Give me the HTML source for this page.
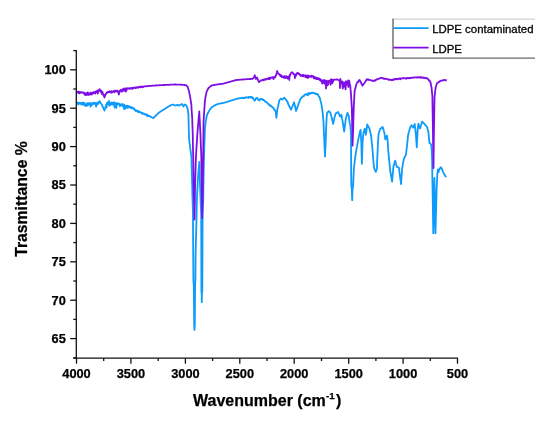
<!DOCTYPE html>
<html><head><meta charset="utf-8"><title>FTIR</title>
<style>
html,body{margin:0;padding:0;background:#fff;}
body{width:550px;height:421px;overflow:hidden;position:relative;font-family:"Liberation Sans",sans-serif;}
svg{position:absolute;left:0;top:0;}
text{font-family:"Liberation Sans",sans-serif;fill:#000;}
.tk{font-size:12.8px;font-weight:bold;stroke:#000;stroke-width:0.25px;}
.ax{font-size:16px;font-weight:bold;stroke:#000;stroke-width:0.25px;}
.lg{font-size:11.4px;stroke:#000;stroke-width:0.3px;}
</style></head><body>
<svg width="550" height="421" viewBox="0 0 550 421">
<rect width="550" height="421" fill="#fff"/>
<!-- curves -->
<path d="M76.5,102.9 L76.5,102.9 L76.8,102.9 L77.2,102.8 L77.5,103.7 L77.9,102.4 L78.2,104.0 L78.6,104.5 L78.9,102.9 L79.3,102.9 L79.6,103.0 L80.0,103.2 L80.3,103.0 L80.7,104.0 L81.0,103.7 L81.4,103.0 L81.7,104.6 L82.0,103.5 L82.1,102.9 L82.4,103.2 L82.8,102.5 L83.1,104.4 L83.5,102.9 L83.8,103.9 L84.2,105.4 L84.5,103.0 L84.9,103.9 L85.2,104.8 L85.6,104.8 L85.9,106.2 L86.3,105.3 L86.6,105.3 L87.0,103.5 L87.3,103.1 L87.7,105.6 L88.0,103.2 L88.4,103.5 L88.7,103.2 L89.1,104.2 L89.4,103.6 L89.8,103.2 L90.0,104.0 L90.1,103.0 L90.5,106.6 L90.8,104.7 L91.2,104.2 L91.5,105.4 L91.9,105.2 L92.2,103.2 L92.6,103.6 L92.9,104.0 L93.3,102.8 L93.6,103.3 L94.0,103.0 L94.3,103.9 L94.7,103.0 L95.0,102.8 L95.4,103.5 L95.7,103.3 L96.1,106.6 L96.4,103.2 L96.8,105.2 L97.0,103.8 L97.1,102.7 L97.5,103.3 L97.8,103.0 L98.2,103.9 L98.5,102.1 L98.9,102.6 L99.2,102.7 L99.6,101.1 L99.9,101.5 L100.0,102.0 L100.3,102.4 L100.6,103.0 L101.0,103.5 L101.3,104.0 L101.7,104.5 L102.0,105.0 L102.0,105.1 L102.4,105.9 L102.7,106.7 L103.1,107.5 L103.4,108.2 L103.8,109.0 L104.1,109.8 L104.5,110.6 L104.5,110.6 L104.8,109.3 L105.2,108.0 L105.5,106.7 L105.9,105.4 L106.0,105.0 L106.2,104.5 L106.6,107.7 L106.9,103.0 L107.3,102.5 L107.6,104.1 L108.0,104.1 L108.0,103.0 L108.3,102.4 L108.7,103.7 L109.0,101.0 L109.4,105.9 L109.7,102.9 L110.1,105.2 L110.4,105.0 L110.8,103.0 L111.1,103.9 L111.5,102.5 L111.8,102.8 L112.2,104.6 L112.5,103.0 L112.9,104.7 L113.2,103.5 L113.6,102.4 L113.9,102.1 L114.3,103.1 L114.6,107.6 L115.0,103.4 L115.0,104.0 L115.3,104.8 L115.7,103.0 L116.0,103.8 L116.4,107.9 L116.7,103.3 L117.1,103.4 L117.4,104.3 L117.8,103.1 L118.1,103.8 L118.5,104.3 L118.8,103.7 L119.2,103.9 L119.5,103.8 L119.9,106.3 L120.2,105.3 L120.6,104.5 L120.9,104.4 L121.3,104.6 L121.6,104.9 L122.0,105.4 L122.0,105.5 L122.3,105.0 L122.7,103.9 L123.0,105.6 L123.4,107.0 L123.7,105.6 L124.1,109.1 L124.4,105.0 L124.8,107.3 L125.1,106.8 L125.5,108.6 L125.8,106.0 L126.2,106.5 L126.5,105.8 L126.9,105.7 L127.2,106.8 L127.6,107.9 L127.9,105.8 L128.3,105.9 L128.6,106.2 L129.0,106.4 L129.3,107.4 L129.7,107.2 L130.0,107.5 L130.0,107.7 L130.4,106.7 L130.7,106.9 L131.1,107.2 L131.4,108.3 L131.8,108.2 L132.1,107.4 L132.5,107.6 L132.8,107.8 L133.2,108.6 L133.5,108.8 L133.9,108.3 L134.2,109.6 L134.6,109.5 L134.9,109.5 L135.0,110.0 L135.3,109.9 L135.6,111.0 L136.0,110.4 L136.3,110.7 L136.7,110.5 L137.0,111.2 L137.4,110.7 L137.7,111.0 L138.1,112.2 L138.4,111.2 L138.8,111.2 L139.1,112.0 L139.5,111.9 L139.8,111.9 L140.0,112.2 L140.2,112.2 L140.5,112.6 L140.9,112.3 L141.2,112.4 L141.6,112.9 L141.9,113.4 L142.3,113.8 L142.6,113.0 L143.0,113.4 L143.3,113.9 L143.7,113.8 L144.0,113.7 L144.4,113.8 L144.7,114.3 L145.0,114.3 L145.1,114.7 L145.4,114.1 L145.8,114.5 L146.1,114.4 L146.5,114.6 L146.8,115.8 L147.2,114.8 L147.5,115.0 L147.9,115.2 L148.2,116.2 L148.6,116.1 L148.9,116.0 L149.3,115.9 L149.6,116.2 L150.0,116.1 L150.0,116.5 L150.3,116.7 L150.7,116.8 L151.0,117.0 L151.4,117.1 L151.7,117.3 L152.1,117.5 L152.4,117.6 L152.8,117.8 L153.1,117.9 L153.3,118.0 L153.5,117.8 L153.8,117.5 L154.2,117.2 L154.5,116.8 L154.9,116.5 L155.2,116.2 L155.6,115.9 L155.9,115.5 L156.0,115.5 L156.3,115.2 L156.6,114.9 L157.0,114.5 L157.3,114.2 L157.7,113.9 L158.0,113.5 L158.4,113.2 L158.7,112.8 L159.1,112.5 L159.3,112.3 L159.4,112.2 L159.8,112.0 L160.1,111.8 L160.5,111.6 L160.8,111.3 L161.2,111.1 L161.5,110.9 L161.9,110.7 L162.2,110.5 L162.6,110.2 L162.9,110.0 L163.0,110.0 L163.3,109.8 L163.6,109.6 L164.0,109.4 L164.3,109.2 L164.7,109.0 L165.0,108.7 L165.4,108.5 L165.7,108.3 L166.1,108.1 L166.4,107.9 L166.4,107.9 L166.8,107.6 L167.1,107.4 L167.5,107.2 L167.8,107.0 L168.2,106.7 L168.5,106.5 L168.9,106.3 L169.0,106.2 L169.2,106.1 L169.6,105.9 L169.9,105.7 L170.3,105.5 L170.6,105.3 L171.0,105.1 L171.3,104.9 L171.3,104.9 L171.7,104.8 L172.0,104.8 L172.4,104.7 L172.7,104.6 L173.0,104.6 L173.1,104.6 L173.4,104.7 L173.8,104.9 L174.1,105.0 L174.5,105.1 L174.8,105.2 L175.2,105.3 L175.5,105.4 L175.7,105.5 L175.9,105.4 L176.2,105.3 L176.6,105.2 L176.9,105.0 L177.3,104.9 L177.5,104.8 L177.6,104.9 L178.0,105.1 L178.3,105.3 L178.7,105.4 L179.0,105.6 L179.0,105.6 L179.4,105.4 L179.7,105.2 L180.1,105.0 L180.4,104.8 L180.5,104.8 L180.8,104.6 L181.1,104.5 L181.5,104.3 L181.8,104.1 L182.0,104.0 L182.2,104.3 L182.5,104.9 L182.9,105.5 L183.2,106.1 L183.5,106.5 L183.6,106.3 L183.9,105.6 L184.3,104.9 L184.5,104.5 L184.6,104.6 L185.0,104.7 L185.3,104.8 L185.7,105.0 L186.0,105.1 L186.2,105.2 L186.4,105.6 L186.7,106.4 L187.1,107.1 L187.4,107.9 L187.5,108.0 L187.8,110.0 L188.1,112.3 L188.4,113.9 L188.5,117.4 L188.8,129.8 L189.1,138.6 L189.2,139.4 L189.5,142.4 L189.9,145.3 L190.2,148.2 L190.5,150.3 L190.6,150.9 L190.9,153.1 L191.3,155.4 L191.4,156.0 L191.6,165.4 L192.0,178.7 L192.3,190.0 L192.3,191.8 L192.7,204.3 L193.0,215.0 L193.0,223.7 L193.2,250.0 L193.4,281.0 L193.4,281.0 L193.7,284.5 L193.8,285.0 L194.1,315.0 L194.2,325.0 L194.4,329.2 L194.5,330.0 L194.8,325.0 L194.8,325.0 L195.1,285.0 L195.1,284.3 L195.4,281.0 L195.5,268.0 L195.6,255.0 L195.8,244.7 L196.2,230.3 L196.5,218.0 L196.5,215.8 L196.9,200.0 L196.9,200.0 L197.2,192.6 L197.6,185.2 L197.8,181.0 L197.9,179.1 L198.3,174.6 L198.6,170.1 L199.0,165.6 L199.3,161.8 L199.3,163.4 L199.7,174.6 L199.9,181.0 L200.0,185.1 L200.4,194.6 L200.6,200.0 L200.7,203.7 L201.1,212.5 L201.2,215.0 L201.4,291.0 L201.4,291.5 L201.7,294.0 L201.8,302.2 L201.8,302.2 L201.9,294.0 L202.1,292.1 L202.3,291.0 L202.5,240.3 L202.6,215.0 L202.8,208.8 L203.2,200.0 L203.2,200.0 L203.5,179.6 L203.8,165.0 L203.9,161.3 L204.2,150.0 L204.2,148.6 L204.6,139.0 L204.9,129.4 L205.0,128.0 L205.3,125.4 L205.6,122.3 L205.8,121.0 L206.0,120.0 L206.3,118.3 L206.7,116.5 L207.0,115.0 L207.0,114.9 L207.4,114.2 L207.7,113.5 L208.1,112.8 L208.4,112.1 L208.7,111.6 L208.8,111.4 L209.1,110.9 L209.5,110.3 L209.8,109.8 L210.2,109.3 L210.5,108.7 L210.9,108.2 L211.0,108.0 L211.2,107.8 L211.6,107.5 L211.9,107.3 L212.3,107.0 L212.6,106.7 L213.0,106.4 L213.3,106.2 L213.7,105.9 L213.8,105.8 L214.0,105.7 L214.4,105.5 L214.7,105.4 L215.1,105.2 L215.4,105.1 L215.8,104.9 L216.1,104.8 L216.5,104.6 L216.8,104.5 L217.2,104.3 L217.5,104.2 L217.9,104.0 L218.0,104.0 L218.2,103.9 L218.6,103.9 L218.9,103.8 L219.3,103.7 L219.6,103.7 L220.0,103.6 L220.3,103.5 L220.7,103.4 L221.0,103.4 L221.4,103.3 L221.7,103.2 L222.1,103.1 L222.4,103.1 L222.8,103.0 L223.1,102.9 L223.5,102.9 L223.8,102.8 L224.2,102.7 L224.5,102.6 L224.7,102.6 L224.9,102.5 L225.2,102.4 L225.6,102.3 L225.9,102.2 L226.3,102.1 L226.6,102.0 L227.0,101.9 L227.3,101.8 L227.7,101.7 L228.0,101.6 L228.4,101.4 L228.7,101.3 L229.1,101.2 L229.4,101.1 L229.8,101.0 L230.1,100.9 L230.5,100.8 L230.8,100.7 L231.2,100.6 L231.5,100.5 L231.9,100.3 L232.2,100.2 L232.6,100.1 L232.9,100.0 L233.3,99.9 L233.6,99.8 L234.0,99.7 L234.3,99.6 L234.7,99.5 L235.0,99.4 L235.4,99.3 L235.7,99.1 L236.1,99.0 L236.4,98.9 L236.8,98.8 L237.1,98.7 L237.5,98.6 L237.8,98.5 L237.8,98.5 L238.2,98.5 L238.5,98.4 L238.9,98.4 L239.2,98.3 L239.6,98.3 L239.9,98.3 L240.3,98.1 L240.6,98.1 L241.0,98.2 L241.3,98.0 L241.7,98.0 L242.0,97.8 L242.4,97.7 L242.7,97.9 L243.1,98.0 L243.4,97.9 L243.8,98.2 L244.1,97.6 L244.5,98.1 L244.8,97.5 L245.2,97.8 L245.5,97.4 L245.9,97.4 L246.2,97.6 L246.6,97.3 L246.9,97.3 L247.3,97.4 L247.6,97.6 L248.0,97.1 L248.3,97.1 L248.7,98.0 L249.0,96.9 L249.4,97.2 L249.7,97.0 L250.1,97.1 L250.4,97.0 L250.8,97.5 L251.0,97.0 L251.1,97.2 L251.5,97.0 L251.8,97.1 L252.2,98.0 L252.5,97.4 L252.9,97.8 L253.0,98.0 L253.2,98.5 L253.6,99.2 L253.9,99.6 L254.3,100.1 L254.5,100.7 L254.6,100.6 L255.0,100.4 L255.3,99.3 L255.7,98.8 L256.0,98.5 L256.0,98.9 L256.4,98.2 L256.7,97.9 L257.0,98.0 L257.1,98.0 L257.4,98.6 L257.8,98.8 L258.1,99.2 L258.5,100.0 L258.8,100.2 L259.0,100.5 L259.2,100.1 L259.5,99.7 L259.9,99.4 L260.2,99.3 L260.5,99.0 L260.6,99.5 L260.9,98.8 L261.3,99.0 L261.6,99.1 L262.0,99.0 L262.0,99.0 L262.3,99.1 L262.7,99.3 L263.0,100.2 L263.4,100.1 L263.7,100.0 L264.1,100.2 L264.4,100.5 L264.8,100.7 L265.0,101.0 L265.1,101.6 L265.5,101.8 L265.8,101.9 L266.2,101.9 L266.5,102.1 L266.9,102.4 L267.2,102.9 L267.6,103.4 L267.9,103.4 L268.0,103.6 L268.3,104.0 L268.6,104.4 L269.0,104.3 L269.3,104.6 L269.7,105.6 L270.0,105.5 L270.4,105.4 L270.7,105.7 L271.1,105.9 L271.4,106.6 L271.8,106.7 L272.1,106.9 L272.5,107.1 L272.7,107.5 L272.8,107.6 L273.2,107.9 L273.5,108.4 L273.7,108.5 L273.9,108.5 L274.2,109.8 L274.6,109.8 L274.9,110.2 L275.3,110.8 L275.6,111.3 L275.7,111.4 L276.0,114.2 L276.3,117.4 L276.4,117.9 L276.7,115.3 L277.0,112.3 L277.4,109.3 L277.4,109.3 L277.7,107.7 L278.1,106.2 L278.4,104.6 L278.8,103.0 L279.1,101.4 L279.4,100.3 L279.5,100.2 L279.8,99.7 L280.2,99.3 L280.5,98.9 L280.7,98.7 L280.9,98.8 L281.2,99.0 L281.6,99.1 L281.9,99.3 L282.3,99.5 L282.3,99.5 L282.6,99.2 L283.0,98.9 L283.3,98.6 L283.7,98.2 L284.0,97.9 L284.3,97.7 L284.4,97.8 L284.7,98.3 L285.1,98.7 L285.4,99.2 L285.8,99.6 L286.1,100.1 L286.5,100.5 L286.8,100.9 L287.2,101.4 L287.5,101.8 L287.6,101.9 L287.9,103.0 L288.2,104.2 L288.3,104.4 L288.6,104.9 L288.9,105.6 L289.3,106.2 L289.6,106.9 L290.0,107.5 L290.0,107.5 L290.3,108.2 L290.7,108.9 L291.0,109.6 L291.1,109.7 L291.4,108.9 L291.7,108.0 L292.1,107.1 L292.4,106.1 L292.5,106.0 L292.8,105.3 L293.1,104.4 L293.5,103.5 L293.8,102.7 L294.0,102.3 L294.2,103.0 L294.5,104.3 L294.9,105.6 L295.0,106.0 L295.2,107.1 L295.6,108.7 L295.9,110.3 L296.1,111.0 L296.3,110.4 L296.6,109.4 L297.0,108.4 L297.3,107.4 L297.7,106.4 L298.0,105.3 L298.1,105.2 L298.4,104.4 L298.7,103.5 L299.1,102.6 L299.4,101.7 L299.8,100.8 L300.1,99.5 L300.5,99.1 L300.6,98.7 L300.8,98.7 L301.2,97.8 L301.5,97.7 L301.9,97.5 L302.2,97.2 L302.6,96.6 L302.9,96.3 L303.3,96.1 L303.6,96.3 L304.0,96.0 L304.3,95.0 L304.7,94.8 L304.7,95.0 L305.0,94.6 L305.4,94.4 L305.7,94.2 L306.1,94.4 L306.4,94.2 L306.8,94.9 L307.1,93.7 L307.5,94.6 L307.8,95.2 L308.2,93.5 L308.5,94.6 L308.9,93.5 L309.2,93.2 L309.6,93.0 L309.6,93.3 L309.9,93.1 L310.3,93.9 L310.6,93.1 L311.0,93.0 L311.3,92.7 L311.7,93.0 L312.0,92.8 L312.4,92.7 L312.7,92.6 L313.1,92.8 L313.4,93.0 L313.7,92.9 L313.8,93.2 L314.1,92.9 L314.5,93.2 L314.8,93.3 L315.2,93.7 L315.5,93.9 L315.9,94.4 L316.2,93.7 L316.6,94.0 L316.9,93.8 L317.3,94.1 L317.6,94.2 L317.8,94.6 L318.0,94.9 L318.3,95.5 L318.7,96.0 L319.0,96.6 L319.4,97.2 L319.7,97.7 L319.8,97.8 L320.1,99.0 L320.4,100.3 L320.8,101.7 L321.1,103.0 L321.5,104.4 L321.5,104.4 L321.8,106.8 L322.2,109.2 L322.5,111.6 L322.7,112.6 L322.9,114.9 L323.2,119.1 L323.5,122.0 L323.6,124.2 L323.9,132.1 L324.3,140.0 L324.3,140.0 L324.6,148.2 L325.0,156.5 L325.0,156.5 L325.3,149.9 L325.5,147.0 L325.7,141.7 L325.8,139.0 L326.0,131.9 L326.4,122.0 L326.4,122.0 L326.7,116.9 L327.0,113.2 L327.1,113.1 L327.4,112.6 L327.8,112.2 L328.1,111.8 L328.5,111.3 L328.7,111.1 L328.8,111.2 L329.2,111.5 L329.5,111.8 L329.9,112.1 L330.2,112.4 L330.3,112.4 L330.6,113.5 L330.9,114.8 L331.3,116.1 L331.6,117.4 L331.8,118.0 L332.0,118.8 L332.3,120.3 L332.7,121.8 L333.0,123.3 L333.2,123.9 L333.4,122.9 L333.7,121.2 L334.1,119.5 L334.4,118.0 L334.4,117.8 L334.8,116.5 L335.1,115.3 L335.5,114.0 L335.6,113.6 L335.8,113.4 L336.2,113.2 L336.5,113.0 L336.9,112.8 L337.2,112.5 L337.6,112.3 L337.9,112.1 L338.1,112.0 L338.3,112.4 L338.6,113.1 L339.0,113.9 L339.3,114.5 L339.3,114.6 L339.7,115.5 L340.0,116.4 L340.1,116.5 L340.4,116.1 L340.7,115.7 L341.1,115.2 L341.4,114.8 L341.4,115.1 L341.8,117.0 L342.1,118.9 L342.5,120.8 L342.6,121.4 L342.8,123.0 L343.2,125.2 L343.5,127.5 L343.9,129.7 L344.2,131.6 L344.2,131.2 L344.6,128.4 L344.9,125.6 L345.3,122.9 L345.6,120.1 L345.9,118.1 L346.0,117.8 L346.3,116.6 L346.7,115.5 L347.0,114.3 L347.4,113.1 L347.5,112.8 L347.7,113.4 L348.1,114.2 L348.4,115.1 L348.7,115.7 L348.8,116.4 L349.1,118.9 L349.5,121.5 L349.6,122.2 L349.8,123.2 L350.2,124.7 L350.4,125.5 L350.5,127.9 L350.9,133.4 L351.0,135.0 L351.2,176.7 L351.3,185.0 L351.6,187.5 L351.9,190.0 L351.9,191.7 L352.2,200.2 L352.3,196.8 L352.5,190.0 L352.6,188.9 L353.0,186.4 L353.2,185.0 L353.3,181.3 L353.7,172.5 L353.8,170.0 L354.0,167.7 L354.4,164.4 L354.7,161.6 L354.7,161.2 L355.1,158.6 L355.4,155.9 L355.7,154.0 L355.8,153.4 L356.1,151.4 L356.5,149.3 L356.8,147.3 L356.9,147.0 L357.2,145.4 L357.5,143.6 L357.9,141.7 L358.2,139.8 L358.6,138.0 L358.9,136.4 L358.9,136.2 L359.3,134.8 L359.6,133.5 L360.0,132.1 L360.3,130.8 L360.6,129.8 L360.7,131.5 L361.0,137.6 L361.3,142.0 L361.4,145.6 L361.7,158.3 L361.9,163.8 L362.1,157.6 L362.4,146.7 L362.6,142.0 L362.8,140.0 L363.1,136.5 L363.5,133.0 L363.5,133.0 L363.8,131.7 L364.2,130.4 L364.5,129.2 L364.7,128.6 L364.9,129.6 L365.2,131.4 L365.6,133.2 L365.9,134.8 L365.9,134.4 L366.3,131.9 L366.6,129.3 L367.0,126.7 L367.3,124.5 L367.3,124.6 L367.7,125.3 L368.0,126.0 L368.4,126.7 L368.7,127.3 L369.1,128.0 L369.4,128.7 L369.6,129.0 L369.8,129.9 L370.1,131.5 L370.5,133.2 L370.8,134.8 L371.2,136.4 L371.2,136.4 L371.5,139.8 L371.9,143.1 L372.2,146.0 L372.2,146.6 L372.6,150.6 L372.9,154.0 L372.9,154.7 L373.3,159.6 L373.4,161.0 L373.6,163.3 L374.0,166.6 L374.2,168.5 L374.3,168.8 L374.7,169.5 L375.0,170.3 L375.4,171.0 L375.7,171.7 L375.8,171.8 L376.1,171.0 L376.4,170.0 L376.8,169.1 L377.0,168.5 L377.1,162.1 L377.2,160.0 L377.5,154.0 L377.5,154.0 L377.8,146.3 L378.0,143.0 L378.2,140.0 L378.5,134.7 L378.6,133.9 L378.9,133.0 L379.2,131.9 L379.6,130.8 L379.9,129.8 L380.2,129.0 L380.3,128.9 L380.6,128.6 L381.0,128.4 L381.3,128.1 L381.7,127.8 L382.0,127.5 L382.4,127.2 L382.7,127.0 L382.7,127.2 L383.1,128.3 L383.4,129.5 L383.8,130.6 L384.1,131.8 L384.3,132.3 L384.5,133.7 L384.8,136.1 L385.2,138.6 L385.3,139.3 L385.5,138.8 L385.9,138.0 L386.2,137.2 L386.6,136.5 L386.9,135.7 L387.0,135.6 L387.3,137.9 L387.6,140.6 L387.7,141.0 L388.0,146.4 L388.2,150.0 L388.3,151.5 L388.7,155.1 L389.0,158.7 L389.4,162.3 L389.7,165.9 L390.1,169.5 L390.2,170.5 L390.4,172.0 L390.8,174.0 L391.1,176.0 L391.5,178.1 L391.8,180.1 L392.1,181.6 L392.2,180.5 L392.5,176.7 L392.9,172.9 L393.2,169.1 L393.5,166.4 L393.6,166.1 L393.9,164.9 L394.3,163.7 L394.6,162.5 L395.0,161.4 L395.2,160.7 L395.3,161.3 L395.7,162.6 L396.0,163.9 L396.4,165.3 L396.7,166.6 L396.8,166.8 L397.1,166.9 L397.4,167.0 L397.8,167.2 L398.1,167.3 L398.5,167.4 L398.8,167.6 L398.9,167.6 L399.2,169.9 L399.5,172.7 L399.9,175.4 L400.1,177.0 L400.2,178.0 L400.6,180.5 L400.9,182.9 L401.1,184.0 L401.3,181.0 L401.6,175.7 L402.0,170.4 L402.1,168.9 L402.3,167.4 L402.7,165.4 L403.0,163.4 L403.4,161.3 L403.7,159.3 L403.8,159.0 L404.1,158.4 L404.4,157.7 L404.8,157.0 L405.1,156.3 L405.3,156.0 L405.5,155.7 L405.8,155.3 L405.8,154.9 L406.2,152.4 L406.5,149.9 L406.6,149.5 L406.9,146.7 L407.2,143.5 L407.6,140.3 L407.9,137.0 L408.2,134.7 L408.3,134.3 L408.6,133.0 L409.0,131.7 L409.3,130.4 L409.7,129.2 L410.0,127.9 L410.2,127.3 L410.4,127.0 L410.7,126.4 L411.1,125.8 L411.4,125.3 L411.5,125.2 L411.8,125.7 L412.1,126.2 L412.5,126.8 L412.8,127.3 L413.1,127.7 L413.2,127.5 L413.5,126.7 L413.9,126.0 L414.2,125.2 L414.6,124.4 L414.8,124.0 L414.9,125.4 L415.3,128.8 L415.6,132.1 L416.0,135.5 L416.0,135.5 L416.3,140.7 L416.7,145.9 L416.8,147.4 L417.0,142.4 L417.4,135.4 L417.6,131.4 L417.7,129.9 L418.1,126.5 L418.4,123.6 L418.4,123.7 L418.8,124.8 L419.1,125.8 L419.5,126.8 L419.8,127.8 L420.1,128.5 L420.2,128.2 L420.5,126.9 L420.9,125.7 L421.2,124.5 L421.6,123.3 L421.9,122.1 L422.1,121.6 L422.3,121.8 L422.6,122.1 L423.0,122.5 L423.3,122.8 L423.7,123.2 L424.0,123.5 L424.4,123.9 L424.5,124.0 L424.7,124.3 L425.1,124.7 L425.4,125.1 L425.8,125.5 L426.1,125.9 L426.5,126.3 L426.8,126.7 L427.0,126.9 L427.2,127.6 L427.5,128.8 L427.9,130.0 L428.2,131.2 L428.3,131.4 L428.6,134.3 L428.9,137.6 L429.3,141.0 L429.5,142.9 L429.6,143.0 L430.0,143.4 L430.3,143.7 L430.7,144.1 L431.0,144.4 L431.1,144.5 L431.4,147.2 L431.7,150.0 L431.7,151.2 L432.1,160.0 L432.1,160.0 L432.4,181.4 L432.8,202.8 L433.1,224.1 L433.3,233.3 L433.5,223.2 L433.8,205.7 L434.2,188.1 L434.4,178.0 L434.5,185.5 L434.9,203.1 L435.2,220.7 L435.5,233.3 L435.6,229.4 L435.9,215.6 L436.3,201.8 L436.6,190.0 L436.6,188.9 L437.0,181.4 L437.3,175.0 L437.3,174.5 L437.7,171.3 L437.9,169.5 L438.0,170.0 L438.4,171.3 L438.6,172.0 L438.7,171.5 L439.1,170.3 L439.4,169.2 L439.5,169.0 L439.8,168.6 L440.1,168.0 L440.5,167.5 L440.7,167.2 L440.8,167.4 L441.2,167.9 L441.5,168.4 L441.9,168.9 L442.0,169.0 L442.2,169.7 L442.6,170.6 L442.9,171.5 L443.3,172.5 L443.5,173.0 L443.6,173.2 L444.0,173.8 L444.3,174.4 L444.7,174.9 L445.0,175.5 L445.4,176.0 L445.5,176.2 L445.7,176.4 L446.1,176.8 L446.3,177.0" fill="none" stroke="#0c9bfb" stroke-width="1.8" stroke-linejoin="round"/>
<path d="M76.5,91.7 L76.5,91.7 L76.8,91.8 L77.2,91.9 L77.5,91.9 L77.9,92.0 L78.2,92.9 L78.6,91.5 L78.9,92.2 L79.3,93.4 L79.6,91.9 L80.0,91.9 L80.0,92.5 L80.3,92.3 L80.7,92.8 L81.0,92.1 L81.4,92.5 L81.7,92.7 L82.1,92.4 L82.4,92.5 L82.8,92.5 L83.1,92.8 L83.5,93.2 L83.8,92.7 L84.2,92.7 L84.5,94.4 L84.9,94.8 L85.0,93.5 L85.2,94.4 L85.6,93.5 L85.9,95.2 L86.3,94.5 L86.6,93.0 L87.0,93.2 L87.3,93.8 L87.7,92.4 L88.0,95.2 L88.4,93.8 L88.7,93.5 L89.0,93.9 L89.1,94.4 L89.4,93.5 L89.8,94.7 L90.1,94.6 L90.5,92.6 L90.8,93.5 L91.2,93.5 L91.5,92.8 L91.9,94.5 L92.2,93.2 L92.6,93.2 L92.9,93.1 L93.3,92.1 L93.6,93.4 L94.0,93.2 L94.0,93.0 L94.3,92.2 L94.7,92.4 L95.0,91.8 L95.4,93.5 L95.7,91.9 L96.1,91.4 L96.4,91.2 L96.8,92.0 L97.0,91.5 L97.1,90.7 L97.5,91.0 L97.8,93.7 L98.2,90.3 L98.5,91.7 L98.9,90.0 L99.2,90.8 L99.6,89.1 L99.8,90.3 L99.9,89.8 L100.3,90.8 L100.6,90.4 L101.0,91.9 L101.3,90.7 L101.7,93.9 L102.0,92.0 L102.0,91.8 L102.4,91.8 L102.7,93.2 L103.1,93.9 L103.4,95.4 L103.8,94.8 L104.1,96.6 L104.5,97.5 L104.5,96.0 L104.8,95.1 L105.2,95.7 L105.5,94.5 L105.9,94.1 L106.2,93.4 L106.6,92.7 L106.9,93.3 L107.0,93.0 L107.3,92.0 L107.6,92.0 L108.0,92.2 L108.3,92.0 L108.7,92.0 L109.0,92.2 L109.4,91.3 L109.7,91.5 L110.0,92.0 L110.1,91.6 L110.4,92.4 L110.8,91.7 L111.1,92.6 L111.5,91.2 L111.8,92.6 L112.2,91.5 L112.5,91.9 L112.9,91.8 L113.2,91.1 L113.6,91.1 L113.9,91.1 L114.3,92.2 L114.6,90.7 L115.0,90.8 L115.0,91.5 L115.3,90.9 L115.7,90.7 L116.0,91.4 L116.4,91.3 L116.7,90.7 L117.1,90.8 L117.4,90.6 L117.8,92.1 L118.1,92.1 L118.5,92.5 L118.8,94.6 L119.2,92.8 L119.5,90.8 L119.9,91.8 L120.0,91.0 L120.2,90.5 L120.6,90.2 L120.9,89.8 L121.3,90.2 L121.6,90.4 L122.0,91.7 L122.3,90.0 L122.7,89.1 L123.0,89.7 L123.4,90.6 L123.7,89.4 L124.1,88.5 L124.4,90.6 L124.8,89.3 L125.0,89.5 L125.1,88.3 L125.5,91.7 L125.8,90.3 L126.2,88.3 L126.5,90.5 L126.9,88.9 L127.2,88.3 L127.6,88.2 L127.9,88.1 L128.3,88.5 L128.6,88.5 L129.0,88.5 L129.3,88.3 L129.7,89.0 L130.0,88.5 L130.0,88.4 L130.4,88.3 L130.7,88.1 L131.1,88.2 L131.4,88.2 L131.8,88.6 L132.1,87.8 L132.5,89.0 L132.8,88.3 L133.2,87.7 L133.5,88.1 L133.9,87.7 L134.2,87.5 L134.6,87.8 L134.9,87.6 L135.3,87.5 L135.6,88.2 L136.0,87.6 L136.3,87.9 L136.7,87.2 L137.0,87.7 L137.4,87.7 L137.7,87.6 L138.1,87.8 L138.4,86.9 L138.8,87.2 L139.1,86.9 L139.5,86.8 L139.8,87.0 L140.0,87.0 L140.2,86.7 L140.5,86.6 L140.9,87.4 L141.2,86.6 L141.6,86.8 L141.9,86.6 L142.3,86.7 L142.6,87.2 L143.0,86.9 L143.3,87.0 L143.7,86.5 L144.0,86.3 L144.4,86.4 L144.7,86.1 L145.1,86.1 L145.4,86.3 L145.8,86.4 L146.1,86.3 L146.5,86.3 L146.8,86.2 L147.2,86.2 L147.5,86.2 L147.9,86.1 L148.2,86.1 L148.6,86.1 L148.9,86.0 L149.3,86.0 L149.6,85.9 L150.0,85.9 L150.0,85.9 L150.3,85.9 L150.7,85.9 L151.0,85.8 L151.4,85.8 L151.7,85.8 L152.1,85.8 L152.4,85.7 L152.8,85.7 L153.1,85.7 L153.5,85.7 L153.8,85.6 L154.2,85.6 L154.5,85.6 L154.9,85.6 L155.2,85.5 L155.6,85.5 L155.9,85.5 L156.3,85.5 L156.6,85.4 L157.0,85.4 L157.3,85.4 L157.7,85.4 L158.0,85.3 L158.4,85.3 L158.7,85.3 L159.1,85.3 L159.4,85.2 L159.8,85.2 L160.0,85.2 L160.1,85.2 L160.5,85.2 L160.8,85.2 L161.2,85.1 L161.5,85.1 L161.9,85.1 L162.2,85.1 L162.6,85.1 L162.9,85.1 L163.3,85.0 L163.6,85.0 L164.0,85.0 L164.3,85.0 L164.7,85.0 L165.0,85.0 L165.4,84.9 L165.7,84.9 L166.1,84.9 L166.4,84.9 L166.8,84.9 L167.1,84.9 L167.5,84.9 L167.8,84.8 L168.2,84.8 L168.5,84.8 L168.9,84.8 L169.2,84.8 L169.6,84.8 L169.9,84.7 L170.3,84.7 L170.6,84.7 L171.0,84.7 L171.3,84.7 L171.7,84.7 L172.0,84.6 L172.4,84.6 L172.7,84.6 L173.1,84.6 L173.4,84.6 L173.8,84.6 L174.1,84.5 L174.5,84.5 L174.8,84.5 L175.0,84.5 L175.2,84.5 L175.5,84.5 L175.9,84.5 L176.2,84.5 L176.6,84.6 L176.9,84.6 L177.3,84.6 L177.6,84.6 L178.0,84.6 L178.3,84.6 L178.7,84.6 L179.0,84.7 L179.4,84.7 L179.7,84.7 L180.1,84.7 L180.4,84.7 L180.8,84.7 L181.1,84.7 L181.5,84.7 L181.8,84.8 L182.2,84.8 L182.5,84.8 L182.9,84.8 L183.0,84.8 L183.2,84.8 L183.6,84.9 L183.9,84.9 L184.3,85.0 L184.6,85.0 L185.0,85.1 L185.3,85.1 L185.7,85.2 L186.0,85.2 L186.0,85.2 L186.4,85.5 L186.7,85.8 L187.1,86.2 L187.4,86.5 L187.5,86.5 L187.8,87.4 L188.1,88.4 L188.5,89.5 L188.8,90.5 L189.0,91.0 L189.2,92.0 L189.5,93.7 L189.9,95.5 L190.0,96.0 L190.2,97.5 L190.6,99.7 L190.9,101.8 L191.3,104.0 L191.3,104.0 L191.6,109.6 L192.0,115.2 L192.3,120.0 L192.3,121.6 L192.7,132.8 L192.8,136.0 L193.0,148.5 L193.2,156.0 L193.4,172.7 L193.5,181.0 L193.7,190.6 L194.1,204.1 L194.4,217.6 L194.5,219.5 L194.8,203.0 L195.1,183.8 L195.2,181.0 L195.5,171.6 L195.8,160.7 L196.0,156.0 L196.2,152.8 L196.5,147.2 L196.9,141.6 L197.2,136.0 L197.5,132.0 L197.6,130.9 L197.9,126.8 L198.3,122.8 L198.6,118.8 L199.0,114.8 L199.3,111.3 L199.3,112.3 L199.7,119.2 L200.0,126.1 L200.4,133.0 L200.5,135.0 L200.7,141.6 L201.1,150.7 L201.3,156.0 L201.4,166.2 L201.8,190.0 L201.8,190.0 L202.1,214.5 L202.2,218.0 L202.5,204.0 L202.8,190.0 L202.8,185.8 L203.2,156.0 L203.2,156.0 L203.5,125.4 L203.6,121.0 L203.9,116.5 L204.2,111.3 L204.6,106.0 L204.9,100.8 L205.0,100.0 L205.3,98.4 L205.6,96.5 L206.0,94.7 L206.3,92.8 L206.5,92.0 L206.7,91.6 L207.0,90.9 L207.4,90.2 L207.7,89.5 L208.1,88.8 L208.4,88.1 L208.5,88.0 L208.8,87.8 L209.1,87.5 L209.5,87.2 L209.8,86.9 L210.2,86.6 L210.5,86.3 L210.9,86.1 L211.2,85.8 L211.6,85.5 L211.6,85.5 L211.9,85.4 L212.3,85.4 L212.6,85.3 L213.0,85.2 L213.3,85.2 L213.7,85.1 L214.0,85.0 L214.4,85.0 L214.7,84.9 L215.1,84.9 L215.4,84.8 L215.8,84.7 L216.1,84.7 L216.5,84.6 L216.8,84.5 L217.0,84.5 L217.2,84.5 L217.5,84.4 L217.9,84.4 L218.2,84.3 L218.6,84.3 L218.9,84.3 L219.3,84.2 L219.6,84.2 L220.0,84.1 L220.3,84.1 L220.7,84.0 L221.0,84.0 L221.4,83.9 L221.7,83.9 L222.1,83.9 L222.4,83.8 L222.8,83.8 L223.1,83.7 L223.3,83.7 L223.5,83.6 L223.8,83.5 L224.2,83.4 L224.5,83.3 L224.9,83.2 L225.2,83.1 L225.6,83.0 L225.9,82.9 L226.3,82.8 L226.6,82.7 L227.0,82.6 L227.3,82.5 L227.7,82.4 L228.0,82.3 L228.4,82.2 L228.7,82.1 L229.1,82.0 L229.4,81.9 L229.8,81.8 L230.0,81.7 L230.1,81.7 L230.5,81.6 L230.8,81.5 L231.2,81.4 L231.5,81.3 L231.9,81.2 L232.2,81.1 L232.6,81.0 L232.9,80.9 L233.3,80.8 L233.6,80.7 L234.0,80.6 L234.3,80.5 L234.7,80.5 L235.0,80.4 L235.4,80.3 L235.7,80.2 L236.1,80.1 L236.4,80.0 L236.4,80.0 L236.8,80.0 L237.1,79.9 L237.5,79.9 L237.8,79.9 L238.2,79.9 L238.5,79.8 L238.9,79.8 L239.2,79.8 L239.6,79.7 L239.9,79.7 L240.3,79.7 L240.6,79.7 L241.0,79.6 L241.3,79.6 L241.7,79.6 L242.0,79.5 L242.4,79.5 L242.7,79.5 L243.1,79.5 L243.4,79.4 L243.8,79.4 L244.1,79.4 L244.5,79.3 L244.8,79.3 L245.0,79.3 L245.2,79.3 L245.5,79.3 L245.9,79.3 L246.2,79.2 L246.6,79.2 L246.9,79.2 L247.3,79.2 L247.6,79.2 L248.0,79.1 L248.3,79.1 L248.7,79.1 L249.0,79.1 L249.4,79.1 L249.7,79.0 L250.1,79.0 L250.4,79.0 L250.8,79.0 L251.1,79.0 L251.5,78.9 L251.8,78.9 L252.2,78.9 L252.4,78.9 L252.5,78.8 L252.9,78.5 L253.2,78.2 L253.5,78.0 L253.6,77.8 L253.9,77.1 L254.3,76.3 L254.6,75.6 L254.8,75.3 L255.0,75.9 L255.3,77.0 L255.7,78.1 L256.0,79.0 L256.0,78.9 L256.4,78.4 L256.7,77.9 L257.0,77.5 L257.1,77.7 L257.4,78.6 L257.8,79.4 L258.1,80.3 L258.5,81.1 L258.8,82.0 L258.9,82.1 L259.2,81.9 L259.5,81.6 L259.9,81.3 L260.2,81.1 L260.6,80.8 L260.9,80.5 L261.0,80.5 L261.3,80.4 L261.6,80.3 L262.0,80.3 L262.3,79.9 L262.7,79.9 L263.0,79.9 L263.4,80.2 L263.7,80.3 L264.1,79.3 L264.4,79.5 L264.8,79.3 L265.0,79.5 L265.1,79.5 L265.5,78.9 L265.8,79.1 L266.2,79.6 L266.5,79.2 L266.9,78.8 L267.2,78.8 L267.6,78.7 L267.9,78.7 L268.3,78.2 L268.6,79.1 L269.0,78.0 L269.3,78.8 L269.7,79.2 L270.0,78.0 L270.0,77.6 L270.4,77.7 L270.7,77.4 L271.1,77.8 L271.4,77.6 L271.8,77.5 L272.1,77.9 L272.5,77.3 L272.8,77.1 L273.2,77.5 L273.5,79.0 L273.9,77.1 L274.2,76.9 L274.6,76.9 L274.9,77.3 L275.3,77.2 L275.3,77.2 L275.6,75.9 L276.0,75.2 L276.3,75.0 L276.3,74.8 L276.7,73.0 L277.0,71.3 L277.1,71.0 L277.4,71.7 L277.7,72.4 L278.0,73.0 L278.1,73.1 L278.4,73.6 L278.8,74.0 L279.0,74.3 L279.1,74.2 L279.5,74.1 L279.8,75.0 L280.2,75.7 L280.5,76.0 L280.5,76.2 L280.9,75.5 L281.2,75.3 L281.6,77.1 L281.9,76.2 L282.3,76.3 L282.6,76.5 L283.0,76.7 L283.0,76.8 L283.3,76.4 L283.7,77.8 L284.0,77.4 L284.4,76.1 L284.7,77.9 L285.1,77.1 L285.4,76.5 L285.8,78.0 L286.0,76.8 L286.1,77.4 L286.5,76.3 L286.8,76.5 L287.2,77.1 L287.5,78.7 L287.9,77.5 L288.2,77.0 L288.6,77.8 L288.6,77.6 L288.9,76.8 L289.3,80.0 L289.6,74.8 L290.0,75.9 L290.0,75.0 L290.3,74.3 L290.7,73.7 L291.0,73.0 L291.4,72.7 L291.7,72.3 L291.9,72.2 L292.1,72.3 L292.4,72.3 L292.8,72.9 L293.1,73.5 L293.5,73.7 L293.5,74.0 L293.8,74.2 L294.2,74.3 L294.5,74.4 L294.9,78.1 L295.2,76.3 L295.2,76.5 L295.6,76.5 L295.9,75.5 L296.3,74.1 L296.5,74.0 L296.6,73.3 L297.0,73.2 L297.3,73.2 L297.6,72.7 L297.7,72.7 L298.0,73.7 L298.4,73.9 L298.7,74.1 L299.1,73.7 L299.4,73.6 L299.5,74.5 L299.8,74.4 L300.1,75.0 L300.5,74.9 L300.8,76.1 L301.2,75.8 L301.5,75.5 L301.9,75.4 L302.0,75.9 L302.2,75.0 L302.6,76.0 L302.9,75.7 L303.3,76.4 L303.6,75.0 L304.0,75.5 L304.3,75.7 L304.7,75.6 L305.0,76.0 L305.0,75.5 L305.4,77.1 L305.7,75.4 L306.1,77.4 L306.4,75.8 L306.8,75.7 L307.1,75.8 L307.5,75.5 L307.8,78.2 L308.2,77.4 L308.5,75.6 L308.7,76.3 L308.9,75.9 L309.2,76.2 L309.6,76.9 L309.9,76.5 L310.3,76.4 L310.6,75.9 L311.0,76.3 L311.3,77.0 L311.7,75.7 L312.0,76.7 L312.4,76.2 L312.7,76.1 L313.0,76.6 L313.1,76.4 L313.4,76.2 L313.8,78.3 L314.1,77.4 L314.5,78.5 L314.8,77.0 L315.0,77.3 L315.2,77.4 L315.5,77.5 L315.9,78.5 L316.2,79.0 L316.6,77.7 L316.9,78.4 L317.3,79.1 L317.6,78.3 L318.0,79.1 L318.3,78.2 L318.7,78.4 L319.0,78.3 L319.4,79.9 L319.7,80.0 L320.0,79.4 L320.1,80.4 L320.4,79.1 L320.8,80.0 L321.1,81.3 L321.5,80.7 L321.8,80.2 L322.2,83.7 L322.5,81.7 L322.9,81.5 L323.0,81.2 L323.2,82.9 L323.6,82.8 L323.9,79.8 L324.3,83.5 L324.6,80.4 L325.0,81.8 L325.3,80.7 L325.7,85.2 L326.0,81.2 L326.0,88.5 L326.4,82.0 L326.7,80.7 L327.1,84.6 L327.4,85.5 L327.8,81.5 L328.1,84.7 L328.5,81.7 L328.8,80.9 L329.2,81.7 L329.5,81.8 L329.9,80.8 L330.0,80.3 L330.2,80.1 L330.6,84.8 L330.9,79.9 L331.3,79.2 L331.6,80.2 L332.0,80.0 L332.3,83.3 L332.7,79.7 L333.0,81.8 L333.4,80.4 L333.7,79.8 L334.0,79.8 L334.1,79.8 L334.4,79.7 L334.8,79.7 L335.1,79.6 L335.5,79.6 L335.8,79.6 L336.2,79.5 L336.5,79.5 L336.9,79.4 L337.0,79.4 L337.2,79.5 L337.6,79.7 L337.9,79.8 L338.3,80.0 L338.6,80.1 L339.0,80.3 L339.0,80.3 L339.3,80.6 L339.7,80.9 L340.0,88.0 L340.4,78.9 L340.7,82.1 L341.1,83.3 L341.4,83.0 L341.8,82.2 L342.0,82.8 L342.1,81.4 L342.5,86.2 L342.8,88.6 L343.2,82.3 L343.5,84.7 L343.9,86.9 L344.2,82.6 L344.6,82.5 L344.9,83.7 L345.0,83.3 L345.3,83.7 L345.6,89.4 L346.0,81.2 L346.3,82.1 L346.7,84.9 L347.0,83.0 L347.4,81.8 L347.7,82.3 L348.0,81.9 L348.1,80.5 L348.4,87.0 L348.8,82.4 L349.1,80.7 L349.5,82.2 L349.5,82.2 L349.8,83.9 L350.2,85.5 L350.3,86.0 L350.5,89.0 L350.9,93.1 L351.1,95.5 L351.2,98.0 L351.6,103.9 L351.9,109.0 L351.9,111.6 L352.3,129.9 L352.6,145.6 L352.6,144.1 L353.0,133.8 L353.3,125.0 L353.3,123.0 L353.7,109.0 L353.7,109.0 L354.0,102.2 L354.4,95.3 L354.6,91.4 L354.7,90.8 L355.1,89.3 L355.4,88.0 L355.8,86.5 L356.1,85.3 L356.5,84.0 L356.7,83.2 L356.8,83.1 L357.2,82.5 L357.5,82.2 L357.9,82.0 L358.2,82.2 L358.6,80.8 L358.9,80.5 L359.3,80.1 L359.6,79.9 L359.6,80.0 L360.0,80.9 L360.3,81.3 L360.7,81.8 L361.0,82.5 L361.0,82.7 L361.4,83.4 L361.7,84.3 L362.1,84.9 L362.4,85.5 L362.5,85.7 L362.8,85.1 L363.1,84.7 L363.5,84.1 L363.8,83.6 L364.2,83.6 L364.5,83.1 L364.9,82.3 L364.9,82.4 L365.2,81.8 L365.6,81.3 L365.9,80.6 L366.3,80.0 L366.6,79.8 L367.0,79.1 L367.0,79.1 L367.3,79.8 L367.7,79.6 L368.0,79.2 L368.4,79.5 L368.7,80.0 L369.1,79.9 L369.4,79.8 L369.8,79.9 L370.0,80.0 L370.1,79.9 L370.5,80.0 L370.8,80.4 L371.2,80.4 L371.5,80.6 L371.9,80.5 L372.2,80.7 L372.6,80.8 L372.9,80.7 L373.3,80.8 L373.5,81.1 L373.6,80.9 L374.0,80.9 L374.3,80.6 L374.7,80.3 L375.0,80.7 L375.4,80.2 L375.7,80.1 L376.1,79.8 L376.4,79.8 L376.8,79.3 L377.0,79.5 L377.1,79.5 L377.5,79.3 L377.8,79.0 L378.2,78.8 L378.5,78.9 L378.9,78.6 L379.2,78.7 L379.6,78.5 L379.9,78.2 L380.3,78.2 L380.6,78.1 L381.0,77.8 L381.0,77.9 L381.3,77.8 L381.7,77.9 L382.0,78.0 L382.4,78.4 L382.7,78.1 L383.1,78.3 L383.4,78.4 L383.8,78.3 L384.1,79.0 L384.5,78.6 L384.8,78.6 L385.2,78.7 L385.5,78.8 L385.9,78.8 L386.0,79.0 L386.2,79.0 L386.6,78.9 L386.9,79.0 L387.3,79.1 L387.6,79.1 L388.0,79.4 L388.3,79.8 L388.7,79.4 L389.0,79.8 L389.4,79.5 L389.7,79.8 L390.1,79.7 L390.4,79.9 L390.8,79.9 L391.1,79.9 L391.3,80.0 L391.5,79.8 L391.8,80.2 L392.2,79.6 L392.5,80.0 L392.9,79.6 L393.2,79.9 L393.6,79.3 L393.9,79.5 L394.3,79.7 L394.6,79.1 L395.0,79.2 L395.3,78.9 L395.7,79.1 L396.0,79.0 L396.0,79.3 L396.4,78.8 L396.7,78.8 L397.1,78.8 L397.4,79.4 L397.8,79.3 L398.1,79.2 L398.5,78.7 L398.8,78.5 L399.2,78.6 L399.5,78.4 L399.9,78.9 L400.0,78.6 L400.2,79.3 L400.6,78.7 L400.9,78.9 L401.3,78.5 L401.6,78.4 L402.0,78.3 L402.3,78.2 L402.7,78.4 L403.0,78.1 L403.4,78.3 L403.7,78.2 L404.1,78.2 L404.4,78.1 L404.8,78.1 L405.1,78.6 L405.5,78.3 L405.8,78.2 L406.2,78.1 L406.5,78.7 L406.9,78.2 L407.2,78.0 L407.6,78.0 L407.9,78.1 L408.3,77.9 L408.6,78.1 L409.0,78.4 L409.3,78.2 L409.7,77.9 L410.0,78.0 L410.0,77.8 L410.4,78.2 L410.7,77.9 L411.1,77.8 L411.4,77.7 L411.8,77.7 L412.1,77.8 L412.5,77.8 L412.8,77.6 L413.2,77.6 L413.5,77.6 L413.9,77.5 L414.2,77.5 L414.6,77.5 L414.9,77.4 L415.3,77.4 L415.6,77.4 L416.0,77.5 L416.3,77.5 L416.7,77.6 L417.0,77.3 L417.4,77.2 L417.7,77.2 L418.1,77.6 L418.4,77.4 L418.8,77.1 L419.1,77.2 L419.5,77.3 L419.8,77.4 L420.0,77.2 L420.2,77.8 L420.5,77.2 L420.9,77.2 L421.2,77.3 L421.6,77.7 L421.9,77.4 L422.3,77.4 L422.6,77.4 L423.0,77.4 L423.3,78.0 L423.7,77.6 L424.0,77.6 L424.4,77.8 L424.7,78.1 L425.1,78.0 L425.4,78.2 L425.8,78.3 L426.1,78.0 L426.5,78.0 L426.8,78.2 L427.0,78.2 L427.2,78.2 L427.5,78.6 L427.9,79.1 L428.2,79.5 L428.6,79.6 L428.9,80.5 L429.3,80.4 L429.6,81.0 L430.0,81.1 L430.3,81.8 L430.5,81.8 L430.7,83.8 L431.0,85.2 L431.4,86.9 L431.6,88.0 L431.7,89.5 L432.1,93.1 L432.4,96.4 L432.4,99.4 L432.8,121.0 L432.8,121.0 L433.1,144.4 L433.5,167.8 L433.5,168.0 L433.8,140.8 L434.1,121.0 L434.2,116.0 L434.5,99.2 L434.6,96.4 L434.9,94.2 L435.2,90.8 L435.6,88.2 L435.6,88.0 L435.9,86.8 L436.3,85.5 L436.6,84.4 L437.0,83.3 L437.0,83.3 L437.3,83.1 L437.7,82.7 L438.0,82.5 L438.4,82.3 L438.7,82.0 L439.1,81.7 L439.4,81.9 L439.8,81.3 L440.1,81.1 L440.5,80.9 L440.7,80.8 L440.8,80.6 L441.2,80.6 L441.5,80.7 L441.9,80.7 L442.2,80.7 L442.6,80.4 L442.9,80.3 L443.3,80.2 L443.6,80.1 L444.0,79.9 L444.0,80.2 L444.3,80.1 L444.7,80.3 L445.0,80.2 L445.4,80.3 L445.7,80.1 L446.1,80.4 L446.4,80.2 L446.5,80.4" fill="none" stroke="#7f0ee6" stroke-width="1.8" stroke-linejoin="round"/>
<!-- axes -->
<g stroke="#111" stroke-width="1.3" fill="none">
<path d="M76.3,50 V358.8"/>
<path d="M73.3,358.2 H458.1"/>
<path d="M73.3,357.8 H76.3"/>
<path d="M70.2,338.6 H76.3"/>
<path d="M73.3,319.4 H76.3"/>
<path d="M70.2,300.2 H76.3"/>
<path d="M73.3,281.0 H76.3"/>
<path d="M70.2,261.8 H76.3"/>
<path d="M73.3,242.6 H76.3"/>
<path d="M70.2,223.4 H76.3"/>
<path d="M73.3,204.2 H76.3"/>
<path d="M70.2,185.0 H76.3"/>
<path d="M73.3,165.8 H76.3"/>
<path d="M70.2,146.6 H76.3"/>
<path d="M73.3,127.4 H76.3"/>
<path d="M70.2,108.2 H76.3"/>
<path d="M73.3,89.0 H76.3"/>
<path d="M70.2,69.8 H76.3"/>
<path d="M73.3,50.6 H76.3"/>
<path d="M76.5,358.2 V363.7"/>
<path d="M103.7,358.2 V361"/>
<path d="M130.9,358.2 V363.7"/>
<path d="M158.2,358.2 V361"/>
<path d="M185.4,358.2 V363.7"/>
<path d="M212.6,358.2 V361"/>
<path d="M239.8,358.2 V363.7"/>
<path d="M267.0,358.2 V361"/>
<path d="M294.2,358.2 V363.7"/>
<path d="M321.5,358.2 V361"/>
<path d="M348.7,358.2 V363.7"/>
<path d="M375.9,358.2 V361"/>
<path d="M403.1,358.2 V363.7"/>
<path d="M430.3,358.2 V361"/>
<path d="M457.5,358.2 V363.7"/>
</g>
<g class="tk" text-anchor="end">
<text x="65.8" y="343.0">65</text>
<text x="65.8" y="304.6">70</text>
<text x="65.8" y="266.2">75</text>
<text x="65.8" y="227.8">80</text>
<text x="65.8" y="189.4">85</text>
<text x="65.8" y="151.0">90</text>
<text x="65.8" y="112.6">95</text>
<text x="65.8" y="74.2">100</text>
</g>
<g class="tk" text-anchor="middle">
<text x="76.5" y="378.1">4000</text>
<text x="130.9" y="378.1">3500</text>
<text x="185.4" y="378.1">3000</text>
<text x="239.8" y="378.1">2500</text>
<text x="294.2" y="378.1">2000</text>
<text x="348.7" y="378.1">1500</text>
<text x="403.1" y="378.1">1000</text>
<text x="457.5" y="378.1">500</text>
</g>
<text class="ax" style="font-size:15.75px" text-anchor="middle" transform="translate(27.3,199) rotate(-90)">Trasmittance %</text>
<text class="ax" x="193" y="406">Wavenumber (cm<tspan font-size="9.8" dx="0.3" dy="-7">-1</tspan><tspan dx="1.2" dy="7">)</tspan></text>
<!-- legend -->
<path d="M393,19.2 H535" stroke="#cfcfcf" stroke-width="1.2" fill="none"/>
<path d="M393,58.1 H535" stroke="#6a6a6a" stroke-width="1.3" fill="none"/>
<path d="M393,18.7 V58.7" stroke="#2a2a2a" stroke-width="1" fill="none"/>
<path d="M393.4,28.1 H428.6" stroke="#0c9bfb" stroke-width="1.7"/>
<path d="M393.4,47.6 H428.6" stroke="#7f0ee6" stroke-width="1.7"/>
<text class="lg" x="432.2" y="32.6">LDPE contaminated</text>
<text class="lg" x="432.2" y="52.6">LDPE</text>
</svg>
</body></html>
